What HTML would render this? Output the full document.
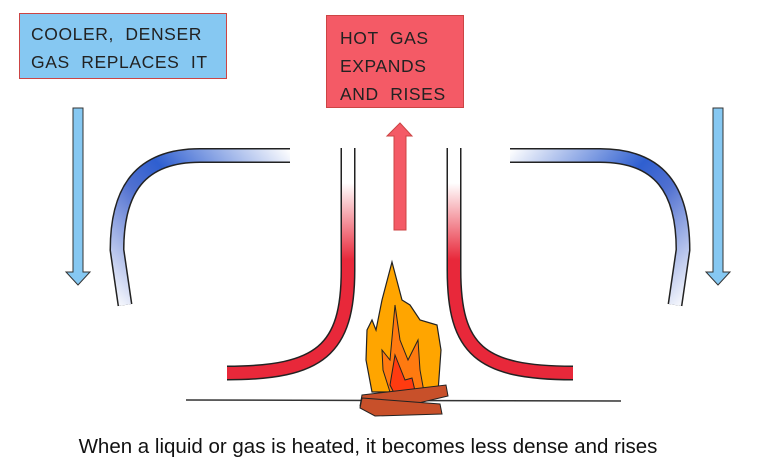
<!DOCTYPE html>
<html><head><style>
body{margin:0;width:759px;height:472px;background:#fff;overflow:hidden;font-family:"Liberation Sans",sans-serif}
.box{position:absolute;border:1px solid #c44;color:#222;font-size:17.5px;letter-spacing:0.6px;word-spacing:6px}
</style></head><body>
<div class="box" style="left:19px;top:13px;width:208px;height:66px;background:#86c8f2;line-height:28px;padding:0 0 0 11px;box-sizing:border-box;padding-top:6px">COOLER, DENSER<br>GAS REPLACES IT</div>
<div class="box" style="left:326px;top:15px;width:138px;height:93px;background:#f45a66;line-height:28px;box-sizing:border-box;padding:8px 0 0 13px">HOT GAS<br>EXPANDS<br>AND RISES</div>
<svg width="759" height="472" style="position:absolute;left:0;top:0">
<defs>
<linearGradient id="rl" gradientUnits="userSpaceOnUse" x1="0" y1="150" x2="0" y2="260"><stop offset="0" stop-color="#fff"/><stop offset="0.3" stop-color="#fff"/><stop offset="1" stop-color="#e8283a"/></linearGradient>
<linearGradient id="bl" gradientUnits="userSpaceOnUse" x1="290" y1="150" x2="117" y2="310"><stop offset="0" stop-color="#fff"/><stop offset="0.45" stop-color="#2f5fd0"/><stop offset="0.6" stop-color="#5070d0"/><stop offset="1" stop-color="#fff"/></linearGradient>
<linearGradient id="br" gradientUnits="userSpaceOnUse" x1="510" y1="150" x2="683" y2="310"><stop offset="0" stop-color="#fff"/><stop offset="0.45" stop-color="#2f5fd0"/><stop offset="0.6" stop-color="#5070d0"/><stop offset="1" stop-color="#fff"/></linearGradient>
</defs>
<g fill="none" stroke-linecap="butt">
<path d="M348,148 L348,270 C348,350 320,373 227,373" stroke="#222" stroke-width="15"/>
<path d="M348,148 L348,270 C348,350 320,373 227,373" stroke="url(#rl)" stroke-width="12"/>
<path d="M454,148 L454,270 C454,350 480,373 573,373" stroke="#222" stroke-width="15"/>
<path d="M454,148 L454,270 C454,350 480,373 573,373" stroke="url(#rl)" stroke-width="12"/>
<path d="M290,155.5 L200,155.5 C140,155.5 117,190 117,250 L125,305" stroke="#222" stroke-width="15"/>
<path d="M290,155.5 L200,155.5 C140,155.5 117,190 117,250 L125,305" stroke="url(#bl)" stroke-width="12"/>
<path d="M510,155.5 L600,155.5 C660,155.5 683,190 683,250 L675,305" stroke="#222" stroke-width="15"/>
<path d="M510,155.5 L600,155.5 C660,155.5 683,190 683,250 L675,305" stroke="url(#br)" stroke-width="12"/>
</g>
<line x1="186" y1="400" x2="621" y2="401" stroke="#333" stroke-width="1.5"/>
<polygon points="73,108 83,108 83,272 90,272 78,285 66,272 73,272" fill="#86c8f2" stroke="#333" stroke-width="1"/>
<polygon points="713,108 723,108 723,272 730,272 718,285 706,272 713,272" fill="#86c8f2" stroke="#333" stroke-width="1"/>
<polygon points="394,230 406,230 406,136 412,136 400,123 387,136 394,136" fill="#f45a66" stroke="#c44" stroke-width="1"/>
<path d="M392,262 L402,300 L410,305 L420,320 L437,325 L441,350 L438,392 L372,392 L366,360 L367,330 L372,320 L376,330 L382,300 Z" fill="#ffa500" stroke="#222" stroke-width="1.2"/>
<path d="M395,305 L400,340 L408,360 L418,340 L420,370 L424,392 L390,392 L383,370 L382,350 L390,360 Z" fill="#ff7a10" stroke="#222" stroke-width="1"/>
<path d="M395,355 L405,380 L412,378 L416,395 L396,397 L390,385 Z" fill="#ff3b10" stroke="#222" stroke-width="1"/>
<path d="M362,395 L446,385 L448,396 L372,414 L360,406 Z" fill="#c8502a" stroke="#222" stroke-width="1"/>
<path d="M362,398 L440,404 L442,414 L375,416 L360,408 Z" fill="#c8502a" stroke="#222" stroke-width="1"/>
</svg>
<div style="position:absolute;left:0;width:736px;top:435px;text-align:center;font-size:20.5px;color:#111">When a liquid or gas is heated, it becomes less dense and rises</div>
</body></html>
